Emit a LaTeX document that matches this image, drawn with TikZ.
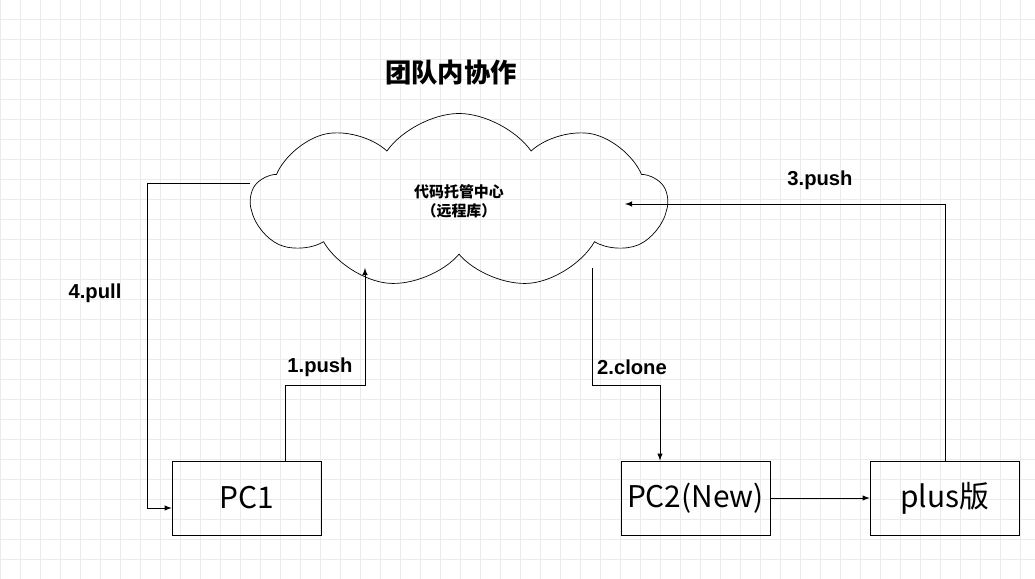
\documentclass[tikz,border=0pt]{standalone}
\usepackage{fontspec}
\setmainfont{Liberation Sans}
\newfontfamily\cjk{Noto Sans CJK SC}
\usetikzlibrary{arrows,positioning,shapes.symbols}
\begin{document}
\begin{tikzpicture}[
            pc/.style={draw,rectangle,minimum width=2.98cm,minimum height=1.48cm,font=\fontsize{17}{20}\selectfont\cjk},
            lab/.style={font=\bfseries\fontsize{11.5}{13}\selectfont},
            flow/.style={draw,->,>=latex}
          ]
          \useasboundingbox (0,0) rectangle (20.7,11.58);
          %grid
          \draw[black!8,step=0.4] (0,0) grid (20.7,11.58);
          %title and cloud
          \node[font=\bfseries\fontsize{15}{18}\selectfont\cjk] (title) at (9.02,10.12) {团队内协作};
          \node[draw,cloud,cloud puffs=9,cloud puff arc=110,aspect=2.4,minimum width=8.3cm,minimum height=3.5cm,inner sep=0,
                align=center,font=\bfseries\fontsize{8.5}{11}\selectfont\cjk] (repo) at (9.18,7.56) {代码托管中心\\（远程库）};
          %boxes
          \node[pc] (pc1) at (4.93,1.62) {PC1};
          \node[pc] (pc2) at (13.91,1.62) {PC2(New)};
          \node[pc] (plus) at (18.89,1.62) {plus版};
          %cloud points
          \coordinate (in1) at (7.3,6.22);
          \coordinate (out2) at (11.84,6.22);
          \coordinate (in3) at (12.5,7.5);
          \coordinate (out4) at (5.0,7.92);
          %arrows
          \path[flow] (pc1.north -| 5.7,0) |- (7.3,3.88) -- (in1);
          \path[flow] (out2) |- (13.2,3.88) -- (pc2.north -| 13.2,0);
          \path[flow] (plus.north -| 18.9,0) |- (in3);
          \path[flow] (out4) -- (2.94,7.92) |- (pc1.west |- 0,1.42);
          \path[flow] (pc2) -- (plus);
          %labels
          \node[lab] (l1) at (6.4,4.24) {1.push};
          \node[lab] (l2) at (12.64,4.24) {2.clone};
          \node[lab] (l3) at (16.4,7.98) {3.push};
          \node[lab] (l4) at (1.9,5.72) {4.pull};
      \end{tikzpicture}
\end{document}
